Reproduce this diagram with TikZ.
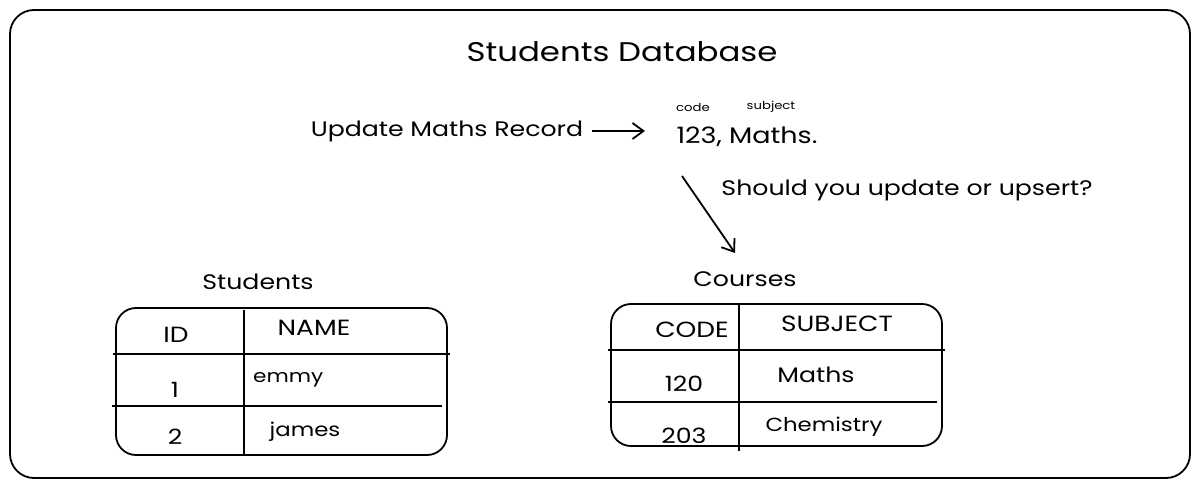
\documentclass[tikz,border=0pt]{standalone}
\usepackage{fontspec}
\setmainfont[FakeStretch=1.2]{Poppins}
\usetikzlibrary{arrows.meta}
\begin{document}
\begin{tikzpicture}[x=1pt,y=-1pt,
  txt/.style={inner sep=0pt,font=\fontsize{21}{26}\selectfont},
  hdr/.style={inner sep=0pt,font=\fontsize{22}{26}\selectfont},
  small/.style={inner sep=0pt,font=\fontsize{11}{14}\selectfont},
  ttl/.style={inner sep=0pt,font=\fontsize{27}{34}\selectfont},
  frame/.style={draw,line width=1.8pt,rounded corners=24pt},
  tbl/.style={draw,line width=1.8pt,rounded corners=20pt},
  rule/.style={line width=1.8pt},
  arr/.style={line width=1.8pt,-{Straight Barb[length=11pt,width=16pt,line width=1.8pt]}}]
\useasboundingbox (0,0) rectangle (1200,487);
\fill[white] (0,0) rectangle (1200,487);
\draw[frame] (10,10) rectangle (1190,478);
\node[ttl] (title) at (622,52) {Students Database};
% update record
\node[txt] (upd) at (447,131) {Update Maths Record};
\node[small] (code) at (693,107) {code};
\node[small] (subj) at (771,107) {subject};
\node[txt,font=\fontsize{22.5}{26}\selectfont] (rec) at (747,137) {123, Maths.};
\draw[arr] (592,131) -- (645,131);
\coordinate (a1) at (682,176);
\coordinate (a2) at (735,253);
\draw[arr] (a1) -- (a2);
\node[txt] (q) at (907,190) {Should you update or upsert?};
% Students table
\node[txt] (stl) at (258,282) {Students};
\draw[tbl] (116,308) rectangle (447,455);
\draw[rule] (244,310) -- (244,456);
\draw[rule] (113,354) -- (450,354);
\draw[rule] (112,406) -- (442,406);
\node[hdr] (sid) at (176,335) {ID};
\node[hdr] (sname) at (314,328) {NAME};
\node[txt] (s1) at (175,390) {1};
\node[txt,font=\fontsize{18}{22}\selectfont,anchor=west] (semmy) at (253,380) {emmy};
\node[txt] (s2) at (175,437) {2};
\node[txt,font=\fontsize{19}{24}\selectfont] (sjames) at (305,432) {james};
% Courses table
\node[txt] (ctl) at (745,279) {Courses};
\draw[tbl] (611,304) rectangle (942,446);
\draw[rule] (739,304) -- (739,451);
\draw[rule] (608,350) -- (945,350);
\draw[rule] (608,402) -- (937,402);
\node[hdr] (ccode) at (692,330) {CODE};
\node[hdr] (csubj) at (837,324) {SUBJECT};
\node[txt] (c120) at (684,384) {120};
\node[txt] (cmaths) at (816,375) {Maths};
\node[txt] (c203) at (684,436) {203};
\node[txt,font=\fontsize{19}{24}\selectfont] (cchem) at (824,427) {Chemistry};
\end{tikzpicture}
\end{document}
